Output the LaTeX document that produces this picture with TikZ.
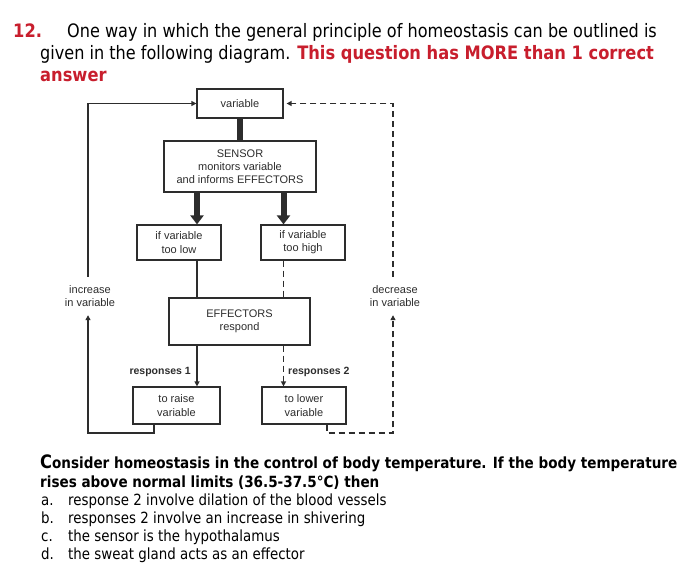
\documentclass[tikz,border=0pt]{standalone}
\usepackage{fontspec}
\setmainfont{Liberation Sans}
\newfontfamily\qfont[FakeStretch=0.87]{DejaVu Sans}
\newfontfamily\qboldfont[FakeStretch=0.88]{DejaVu Sans Bold}
\usetikzlibrary{arrows.meta}
\definecolor{qred}{RGB}{200,30,45}
\definecolor{ink}{RGB}{45,45,45}
\tikzset{
  box/.style 2 args={draw=ink, line width=1.2pt, rectangle, minimum width=#1, minimum height=#2,
    inner sep=0pt, align=center, text=ink, font=\fontsize{11}{13.2}\selectfont},
  lbl/.style={align=center, inner sep=0pt, minimum height=38pt, text=ink, font=\fontsize{11}{13.5}\selectfont},
  resp/.style={inner sep=0pt, text=ink, font=\bfseries\fontsize{10.5}{13}\selectfont},
  solidline/.style={draw=ink, line width=1.2pt},
  dashline/.style={draw=ink, line width=1.4pt, dash pattern=on 6pt off 4pt},
  tip/.style={-{Triangle[length=5pt,width=5pt]}},
  fat/.style={draw=ink, line width=6pt, -{Triangle[length=9pt,width=13pt]}},
  qtext/.style={anchor=base west, inner sep=0pt, font=\qfont\fontsize{18.5}{22}\selectfont},
  qitem/.style={anchor=base west, inner sep=0pt, font=\qfont\fontsize{15.4}{18}\selectfont},
  qbold/.style={anchor=base west, inner sep=0pt, font=\qboldfont\fontsize{15.4}{18}\selectfont}
}
\begin{document}
\begin{tikzpicture}[x=1pt, y=-1pt]
  \fill[white] (0,0) rectangle (700,585);
  \useasboundingbox (0,0) rectangle (700,585);

  % question
  \node[qtext, text=qred] (num) at (13,38) {\qboldfont 12.};
  \node[qtext] (line1) at (67,38) {One way in which the general principle of homeostasis can be outlined is};
  \node[qtext] (line2) at (40,60) {given in the following diagram. {\qboldfont\color{qred}This question has MORE than 1 correct}};
  \node[qtext, text=qred] (line3) at (40,82) {\qboldfont answer};

  % boxes
  \node[box={86pt}{29pt}] (var) at (240,103.5) {variable};
  \node[box={152pt}{51pt}] (sensor) at (240,166.5) {SENSOR\\monitors variable\\and informs EFFECTORS};
  \node[box={84pt}{35pt}] (low) at (179,242.5) {if variable\\too low};
  \node[box={84pt}{35pt}] (high) at (303,242.5) {if variable\\too high};
  \node[box={141pt}{47pt}] (eff) at (239.5,321.5) {EFFECTORS\\respond};
  \node[box={87pt}{37pt}] (raise) at (176.5,405.5) {to raise\\variable};
  \node[box={84pt}{37pt}] (lower) at (304,405.5) {to lower\\variable};
  \node[lbl] (inc) at (90,296) {increase\\in variable};
  \node[lbl] (dec) at (395,296) {decrease\\in variable};
  \node[resp, anchor=east] (resp1) at (191,372) {responses 1};
  \node[resp, anchor=west] (resp2) at (288,372) {responses 2};

  \coordinate (lx) at (197,0);
  \coordinate (rx) at (283.5,0);
  \coordinate (lcol) at (88,0);
  \coordinate (rcol) at (393,0);
  \coordinate (lb) at (154,433);
  \coordinate (rb) at (327,433);

  % main chain
  \draw[draw=ink, line width=6pt] (var) -- (sensor);
  \draw[fat] (sensor.south -| lx) -- (low.north -| lx);
  \draw[fat] (sensor.south -| rx) -- (high.north -| rx);
  \draw[solidline] (low.south -| lx) -- (eff.north -| lx);
  \draw[dashline] (high.south -| rx) -- (eff.north -| rx);
  \draw[solidline, tip] (eff.south -| lx) -- (raise.north -| lx);
  \draw[dashline, tip] (eff.south -| rx) -- (lower.north -| rx);

  % feedback loops
  \draw[solidline, tip] (raise.south -| lb) -- (lb) -| (inc.south -| lcol);
  \draw[solidline, tip] (inc.north -| lcol) |- (var.west);
  \draw[dashline, tip] (lower.south -| rb) -- (rb) -| (dec.south -| rcol);
  \draw[dashline, tip, shorten >=3pt] (dec.north -| rcol) |- (var.east);

  % question about temperature
  \node[qbold] (cons1) at (40,468) {{\fontsize{18.5}{18}\selectfont C}onsider homeostasis in the control of body temperature. If the body temperature};
  \node[qbold] (cons2) at (40,487) {rises above normal limits (36.5-37.5°C) then};
  \node[qitem] (ka) at (41,505) {a.};
  \node[qitem] (ta) at (68,505) {response 2 involve dilation of the blood vessels};
  \node[qitem] (kb) at (41,523) {b.};
  \node[qitem] (tb) at (68,523) {responses 2 involve an increase in shivering};
  \node[qitem] (kc) at (41,541) {c.};
  \node[qitem] (tc) at (68,541) {the sensor is the hypothalamus};
  \node[qitem] (kd) at (41,559) {d.};
  \node[qitem] (td) at (68,559) {the sweat gland acts as an effector};
\end{tikzpicture}
\end{document}
